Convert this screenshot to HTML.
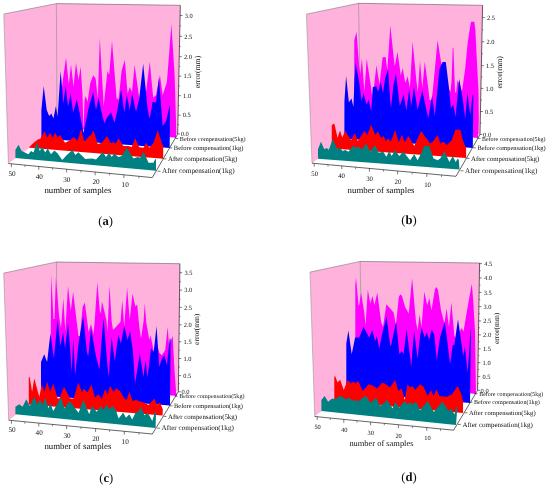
<!DOCTYPE html>
<html><head><meta charset="utf-8"><title>Figure</title>
<style>
html,body{margin:0;padding:0;background:#fff;}
svg{display:block;font-family:"Liberation Serif",serif;fill:#111;text-rendering:geometricPrecision;}
</style></head>
<body>
<svg width="550" height="486" viewBox="0 0 550 486">
<rect width="550" height="486" fill="#ffffff"/>
<polygon points="3.8,14.0 56.4,3.6 57.0,127.0 8.4,163.5" fill="#feb2dc" />
<polygon points="56.4,3.6 180.3,5.3 177.7,134.0 57.0,127.0" fill="#feb2dc" />
<line x1="3.8" y1="14.0" x2="56.4" y2="3.6" stroke="#666" stroke-width="0.5"/>
<line x1="56.4" y1="3.6" x2="57.0" y2="127.0" stroke="#777" stroke-width="0.5"/>
<line x1="3.8" y1="14.0" x2="8.4" y2="163.5" stroke="#888" stroke-width="0.5"/>
<line x1="56.4" y1="3.6" x2="180.3" y2="5.3" stroke="#444" stroke-width="0.5"/>
<polygon points="58.0,127.5 58.0,127.0 60.0,105.0 62.6,82.0 66.0,57.6 68.8,84.4 71.0,64.3 73.5,87.0 76.0,62.7 78.5,80.2 80.7,66.8 82.5,95.0 83.5,132.0 84.5,100.0 85.7,96.0 87.5,102.0 90.2,83.6 93.2,75.2 95.6,78.5 97.8,98.6 99.8,38.0 103.7,106.0 107.5,71.0 109.2,75.0 112.0,41.0 116.7,99.5 117.6,98.0 118.5,100.0 121.7,70.2 124.8,60.0 127.6,93.6 129.8,87.0 132.0,92.0 134.6,65.0 139.3,98.6 141.0,100.0 145.0,100.0 149.8,61.8 153.2,97.8 156.0,95.0 159.9,74.9 162.7,95.3 166.9,81.9 171.4,24.0 174.6,75.0 176.0,120.0 176.3,137.7" fill="#ff00ff" />
<polygon points="41.4,138.5 41.4,110.0 43.7,86.0 46.7,110.0 49.2,116.0 51.4,113.4 53.4,118.5 55.9,106.0 57.6,116.8 60.6,71.0 63.5,103.4 65.6,86.0 68.1,106.7 70.6,93.6 73.2,112.6 76.8,99.2 80.0,115.0 83.5,132.7 88.5,108.4 93.2,91.7 96.0,110.0 98.6,97.5 101.0,110.0 104.4,123.5 107.0,117.6 111.1,112.6 114.5,122.5 116.7,113.4 121.2,89.5 124.3,112.6 126.8,95.0 129.8,110.1 132.1,93.4 136.0,111.8 139.0,100.0 143.2,63.8 147.7,110.0 149.7,118.5 152.7,101.7 156.0,102.6 158.9,77.7 162.7,126.0 166.1,121.0 168.6,110.0 170.0,105.0 169.7,147.9" fill="#0000ff" />
<polygon points="29.3,147.8 29.3,147.0 33.3,142.9 38.2,139.3 40.2,139.0 44.4,131.3 47.4,137.6 50.0,132.8 52.6,137.6 55.3,132.8 57.6,137.2 60.1,134.9 65.1,142.7 70.1,140.2 73.8,136.9 77.7,141.0 81.0,128.8 84.4,141.9 88.9,136.5 91.0,135.0 93.6,130.5 97.7,143.9 102.0,142.7 107.0,136.0 110.9,143.5 113.4,141.9 115.9,143.5 118.4,138.2 123.4,146.0 128.4,146.0 131.8,146.9 135.1,138.2 139.3,147.2 143.5,147.7 146.0,142.7 149.3,147.7 153.5,142.7 157.7,130.2 161.9,143.5 163.2,146.0 163.2,158.8" fill="#ff0000" />
<polygon points="15.4,158.0 15.4,150.0 18.4,144.7 21.7,151.0 25.0,152.6 28.4,154.3 31.0,151.0 33.5,152.6 36.8,142.5 39.8,151.0 42.2,146.7 45.2,152.6 47.7,148.4 51.0,154.3 54.4,150.5 57.7,153.4 62.2,160.0 66.9,155.0 72.5,150.0 75.3,155.0 78.4,152.3 85.3,159.0 92.0,158.5 96.0,159.6 102.8,152.0 106.0,157.0 109.2,152.7 111.7,157.0 114.2,153.6 118.4,157.0 121.7,156.0 126.8,147.7 133.5,158.6 137.6,157.0 140.1,157.8 143.8,152.0 148.5,162.8 153.5,162.8 155.5,158.6 156.0,160.0 156.0,170.7" fill="#008080" />
<line x1="180.3" y1="5.3" x2="177.7" y2="134.0" stroke="#111" stroke-width="0.65"/>
<line x1="180.1" y1="15.5" x2="182.5" y2="15.5" stroke="#222" stroke-width="0.6"/>
<text x="184.7" y="17.7" font-size="6.4" text-anchor="start" >3.0</text>
<line x1="179.7" y1="36.3" x2="182.1" y2="36.3" stroke="#222" stroke-width="0.6"/>
<text x="184.3" y="38.5" font-size="6.4" text-anchor="start" >2.5</text>
<line x1="179.3" y1="56.6" x2="181.7" y2="56.6" stroke="#222" stroke-width="0.6"/>
<text x="183.9" y="58.8" font-size="6.4" text-anchor="start" >2.0</text>
<line x1="178.9" y1="76.2" x2="181.3" y2="76.2" stroke="#222" stroke-width="0.6"/>
<text x="183.5" y="78.4" font-size="6.4" text-anchor="start" >1.5</text>
<line x1="178.5" y1="95.7" x2="180.9" y2="95.7" stroke="#222" stroke-width="0.6"/>
<text x="183.1" y="97.9" font-size="6.4" text-anchor="start" >1.0</text>
<line x1="178.1" y1="115.2" x2="180.5" y2="115.2" stroke="#222" stroke-width="0.6"/>
<text x="182.7" y="117.4" font-size="6.4" text-anchor="start" >0.5</text>
<line x1="177.7" y1="133.9" x2="180.1" y2="133.9" stroke="#222" stroke-width="0.6"/>
<text x="180.7" y="136.1" font-size="6.5" text-anchor="start" >0.0</text>
<line x1="179.9" y1="25.9" x2="181.2" y2="25.9" stroke="#222" stroke-width="0.5"/>
<line x1="179.5" y1="46.4" x2="180.8" y2="46.4" stroke="#222" stroke-width="0.5"/>
<line x1="179.1" y1="66.4" x2="180.4" y2="66.4" stroke="#222" stroke-width="0.5"/>
<line x1="178.7" y1="86.0" x2="180.0" y2="86.0" stroke="#222" stroke-width="0.5"/>
<line x1="178.3" y1="105.5" x2="179.6" y2="105.5" stroke="#222" stroke-width="0.5"/>
<line x1="177.9" y1="124.6" x2="179.2" y2="124.6" stroke="#222" stroke-width="0.5"/>
<text transform="translate(199.6,72) rotate(-90)" font-size="7.8" text-anchor="middle">error(mm)</text>
<line x1="8.4" y1="163.5" x2="152.3" y2="177.6" stroke="#222" stroke-width="0.7"/>
<line x1="152.3" y1="177.6" x2="177.7" y2="134.0" stroke="#222" stroke-width="0.7"/>
<line x1="11.4" y1="163.8" x2="11.4" y2="167.1" stroke="#222" stroke-width="0.6"/>
<text x="12.0" y="176.0" font-size="7.2" text-anchor="middle" >50</text>
<line x1="38.8" y1="166.5" x2="38.8" y2="169.8" stroke="#222" stroke-width="0.6"/>
<text x="39.3" y="178.6" font-size="7.2" text-anchor="middle" >40</text>
<line x1="66.6" y1="169.2" x2="66.6" y2="172.5" stroke="#222" stroke-width="0.6"/>
<text x="66.8" y="181.5" font-size="7.2" text-anchor="middle" >30</text>
<line x1="95.1" y1="172.0" x2="95.1" y2="175.3" stroke="#222" stroke-width="0.6"/>
<text x="96.0" y="184.3" font-size="7.2" text-anchor="middle" >20</text>
<line x1="123.9" y1="174.8" x2="123.9" y2="178.1" stroke="#222" stroke-width="0.6"/>
<text x="125.2" y="186.8" font-size="7.2" text-anchor="middle" >10</text>
<line x1="24.9" y1="165.1" x2="24.9" y2="167.1" stroke="#222" stroke-width="0.5"/>
<line x1="52.5" y1="167.8" x2="52.5" y2="169.8" stroke="#222" stroke-width="0.5"/>
<line x1="80.9" y1="170.6" x2="80.9" y2="172.6" stroke="#222" stroke-width="0.5"/>
<line x1="109.6" y1="173.4" x2="109.6" y2="175.4" stroke="#222" stroke-width="0.5"/>
<line x1="138.9" y1="176.3" x2="138.9" y2="178.3" stroke="#222" stroke-width="0.5"/>
<text x="44.4" y="192.6" font-size="8.8" text-anchor="start" >number of samples</text>
<line x1="175.3" y1="138.5" x2="178.3" y2="138.5" stroke="#222" stroke-width="0.6"/>
<text x="179.8" y="140.7" font-size="6.17" text-anchor="start" >Before compensation(5kg)</text>
<line x1="169.3" y1="147.9" x2="172.3" y2="147.9" stroke="#222" stroke-width="0.6"/>
<text x="173.8" y="150.1" font-size="6.53" text-anchor="start" >Before compensation(1kg)</text>
<line x1="163.5" y1="158.8" x2="166.5" y2="158.8" stroke="#222" stroke-width="0.6"/>
<text x="168.0" y="161.0" font-size="6.88" text-anchor="start" >After compensation(5kg)</text>
<line x1="157.5" y1="171.2" x2="160.5" y2="171.2" stroke="#222" stroke-width="0.6"/>
<text x="162.0" y="173.4" font-size="7.21" text-anchor="start" >After compensation(1kg)</text>
<text x="105.6" y="224.6" font-size="12.6" text-anchor="middle" fill="#111">(<tspan font-weight="bold">a</tspan>)</text>
<polygon points="306.4,14.2 358.5,3.3 360.8,126.0 312.0,163.2" fill="#feb2dc" />
<polygon points="358.5,3.3 482.6,5.3 480.0,134.6 360.8,126.0" fill="#feb2dc" />
<line x1="306.4" y1="14.2" x2="358.5" y2="3.3" stroke="#666" stroke-width="0.5"/>
<line x1="358.5" y1="3.3" x2="360.8" y2="126.0" stroke="#777" stroke-width="0.5"/>
<line x1="306.4" y1="14.2" x2="312.0" y2="163.2" stroke="#888" stroke-width="0.5"/>
<line x1="358.5" y1="3.3" x2="482.6" y2="5.3" stroke="#444" stroke-width="0.5"/>
<polygon points="354.0,128.0 354.3,40.0 356.5,31.8 359.1,65.3 360.4,74.2 361.9,58.0 364.4,92.0 366.7,58.8 371.2,88.2 372.5,100.0 376.4,65.2 379.5,84.4 382.6,57.2 385.6,57.0 387.3,70.4 390.3,25.5 394.7,66.5 397.5,51.7 400.8,75.5 402.7,68.0 405.3,83.0 407.6,76.2 409.9,88.2 412.6,41.5 416.5,81.8 417.8,92.0 420.0,60.8 422.3,88.2 424.8,61.8 428.5,90.0 429.5,100.0 431.5,100.0 432.7,91.6 437.6,40.2 441.0,61.8 444.0,80.0 450.5,92.0 451.6,80.0 452.7,47.8 453.4,47.8 455.0,91.6 456.0,93.0 457.5,80.3 460.0,85.0 462.0,91.6 465.2,68.2 467.7,42.7 469.6,30.0 471.0,21.7 474.3,21.7 475.4,30.0 476.6,55.5 478.5,91.6 478.8,120.0 478.2,138.0" fill="#ff00ff" />
<polygon points="344.4,138.5 344.4,101.8 346.1,76.0 348.9,102.2 351.5,98.4 353.4,107.0 354.5,80.0 355.6,62.7 359.1,81.8 361.6,100.9 363.5,93.3 366.7,104.7 368.6,99.6 371.2,111.6 372.8,86.9 376.3,86.3 378.2,92.0 380.7,81.8 383.0,93.3 385.2,78.0 388.1,69.3 390.3,100.9 390.9,108.5 393.5,85.0 396.0,73.4 399.2,100.9 399.8,106.0 403.6,94.5 406.4,110.5 409.2,89.5 411.2,106.0 414.0,86.9 417.6,109.8 422.3,90.4 428.2,118.0 432.1,96.0 434.8,116.0 439.5,69.1 442.6,62.1 445.8,62.1 449.0,88.2 450.9,108.0 453.3,104.2 455.5,117.0 459.3,78.9 463.0,100.9 465.2,118.5 467.4,92.6 470.2,115.0 472.7,94.3 473.3,96.0 472.8,148.0" fill="#0000ff" />
<polygon points="331.8,148.4 331.8,125.0 334.3,123.4 337.6,138.0 340.0,130.5 342.2,137.6 345.3,131.0 351.0,140.0 355.0,133.0 357.7,141.0 364.4,131.0 367.5,135.0 371.0,124.6 375.3,135.0 378.0,131.6 381.0,138.0 383.5,136.0 385.9,141.0 388.4,138.4 390.9,141.8 395.1,130.0 398.7,142.6 401.9,134.8 404.8,142.6 408.3,136.0 414.3,146.0 421.0,131.0 430.2,143.5 432.7,141.8 437.7,135.1 440.2,143.5 443.6,141.8 446.9,145.0 451.9,140.0 455.3,129.7 460.3,129.7 462.8,140.0 466.1,148.5 466.2,158.0" fill="#ff0000" />
<polygon points="318.0,158.8 318.0,149.3 320.9,141.8 324.3,149.3 326.8,148.1 328.8,150.1 332.6,139.3 336.0,146.0 337.6,149.3 340.1,148.1 342.7,151.0 345.2,150.1 348.5,151.8 352.7,146.0 356.0,147.6 358.5,146.5 361.9,149.8 366.1,143.5 370.3,151.8 374.9,145.1 378.6,152.7 383.3,151.8 386.4,156.8 389.2,151.0 391.7,156.0 395.1,150.1 399.2,156.0 403.4,151.8 410.1,160.2 414.3,154.3 417.6,160.2 421.0,153.5 424.3,146.0 429.3,146.0 433.5,158.5 437.7,160.2 440.2,158.5 444.4,151.0 449.4,161.9 452.8,156.0 455.6,161.9 457.8,158.5 458.8,160.0 459.5,169.5" fill="#008080" />
<line x1="482.6" y1="5.3" x2="480.0" y2="134.6" stroke="#111" stroke-width="0.65"/>
<line x1="482.4" y1="17.6" x2="484.8" y2="17.6" stroke="#222" stroke-width="0.6"/>
<text x="487.0" y="19.8" font-size="6.4" text-anchor="start" >2.5</text>
<line x1="481.9" y1="41.8" x2="484.3" y2="41.8" stroke="#222" stroke-width="0.6"/>
<text x="486.5" y="44.0" font-size="6.4" text-anchor="start" >2.0</text>
<line x1="481.4" y1="65.7" x2="483.8" y2="65.7" stroke="#222" stroke-width="0.6"/>
<text x="486.0" y="67.9" font-size="6.4" text-anchor="start" >1.5</text>
<line x1="480.9" y1="88.4" x2="483.3" y2="88.4" stroke="#222" stroke-width="0.6"/>
<text x="485.5" y="90.6" font-size="6.4" text-anchor="start" >1.0</text>
<line x1="480.5" y1="111.5" x2="482.9" y2="111.5" stroke="#222" stroke-width="0.6"/>
<text x="485.1" y="113.7" font-size="6.4" text-anchor="start" >0.5</text>
<line x1="480.0" y1="134.4" x2="482.4" y2="134.4" stroke="#222" stroke-width="0.6"/>
<text x="483.0" y="136.6" font-size="6.5" text-anchor="start" >0.0</text>
<line x1="482.1" y1="29.7" x2="483.4" y2="29.7" stroke="#222" stroke-width="0.5"/>
<line x1="481.6" y1="53.7" x2="482.9" y2="53.7" stroke="#222" stroke-width="0.5"/>
<line x1="481.2" y1="77.0" x2="482.5" y2="77.0" stroke="#222" stroke-width="0.5"/>
<line x1="480.7" y1="100.0" x2="482.0" y2="100.0" stroke="#222" stroke-width="0.5"/>
<line x1="480.2" y1="123.0" x2="481.5" y2="123.0" stroke="#222" stroke-width="0.5"/>
<text transform="translate(501.6,72.3) rotate(-90)" font-size="7.8" text-anchor="middle">error(mm)</text>
<line x1="312.0" y1="163.2" x2="456.0" y2="176.3" stroke="#222" stroke-width="0.7"/>
<line x1="456.0" y1="176.3" x2="480.0" y2="134.6" stroke="#222" stroke-width="0.7"/>
<line x1="314.2" y1="163.4" x2="314.2" y2="166.7" stroke="#222" stroke-width="0.6"/>
<text x="314.7" y="175.8" font-size="6.8" text-anchor="middle" >50</text>
<line x1="341.8" y1="165.9" x2="341.8" y2="169.2" stroke="#222" stroke-width="0.6"/>
<text x="341.6" y="178.0" font-size="6.8" text-anchor="middle" >40</text>
<line x1="369.4" y1="168.4" x2="369.4" y2="171.7" stroke="#222" stroke-width="0.6"/>
<text x="369.6" y="181.4" font-size="6.8" text-anchor="middle" >30</text>
<line x1="397.6" y1="171.0" x2="397.6" y2="174.3" stroke="#222" stroke-width="0.6"/>
<text x="398.0" y="184.0" font-size="6.8" text-anchor="middle" >20</text>
<line x1="426.8" y1="173.6" x2="426.8" y2="176.9" stroke="#222" stroke-width="0.6"/>
<text x="427.6" y="187.0" font-size="6.8" text-anchor="middle" >10</text>
<line x1="328.0" y1="164.7" x2="328.0" y2="166.7" stroke="#222" stroke-width="0.5"/>
<line x1="355.6" y1="167.2" x2="355.6" y2="169.2" stroke="#222" stroke-width="0.5"/>
<line x1="383.5" y1="169.7" x2="383.5" y2="171.7" stroke="#222" stroke-width="0.5"/>
<line x1="412.2" y1="172.3" x2="412.2" y2="174.3" stroke="#222" stroke-width="0.5"/>
<line x1="441.5" y1="175.0" x2="441.5" y2="177.0" stroke="#222" stroke-width="0.5"/>
<text x="347.6" y="192.6" font-size="8.8" text-anchor="start" >number of samples</text>
<line x1="477.5" y1="138.4" x2="480.5" y2="138.4" stroke="#222" stroke-width="0.6"/>
<text x="482.0" y="140.6" font-size="5.95" text-anchor="start" >Before compensation(5kg)</text>
<line x1="472.9" y1="147.8" x2="475.9" y2="147.8" stroke="#222" stroke-width="0.6"/>
<text x="477.4" y="150.0" font-size="6.38" text-anchor="start" >Before compensation(1kg)</text>
<line x1="466.5" y1="158.4" x2="469.5" y2="158.4" stroke="#222" stroke-width="0.6"/>
<text x="471.0" y="160.6" font-size="6.78" text-anchor="start" >After compensation(5kg)</text>
<line x1="460.5" y1="170.8" x2="463.5" y2="170.8" stroke="#222" stroke-width="0.6"/>
<text x="465.0" y="173.0" font-size="7.18" text-anchor="start" >After compensation(1kg)</text>
<text x="409" y="223.8" font-size="12.6" text-anchor="middle" fill="#111">(<tspan font-weight="bold">b</tspan>)</text>
<polygon points="3.7,273.1 56.4,262.0 58.0,382.7 8.7,420.2" fill="#feb2dc" />
<polygon points="56.4,262.0 179.9,263.7 178.4,391.6 58.0,382.7" fill="#feb2dc" />
<line x1="3.7" y1="273.1" x2="56.4" y2="262.0" stroke="#666" stroke-width="0.5"/>
<line x1="56.4" y1="262.0" x2="58.0" y2="382.7" stroke="#777" stroke-width="0.5"/>
<line x1="3.7" y1="273.1" x2="8.7" y2="420.2" stroke="#888" stroke-width="0.5"/>
<line x1="56.4" y1="262.0" x2="179.9" y2="263.7" stroke="#444" stroke-width="0.5"/>
<polygon points="50.5,384.0 50.8,330.0 51.2,274.6 53.5,319.0 54.5,319.0 55.9,277.2 59.1,316.0 61.0,328.0 63.3,298.2 65.3,331.0 68.0,286.1 70.8,310.9 73.1,291.8 78.5,336.0 80.0,336.0 82.6,307.0 84.8,302.6 87.3,321.6 88.5,332.0 91.0,324.0 93.5,334.0 94.7,321.6 97.3,282.3 99.8,310.9 100.8,313.5 102.0,301.4 106.4,319.8 107.5,331.7 109.5,285.5 111.7,321.6 113.0,330.0 115.9,327.0 120.5,322.0 122.3,300.1 124.2,326.7 127.1,287.4 129.7,320.0 132.5,293.7 135.4,306.5 137.2,304.5 139.3,326.7 141.0,338.4 143.5,322.0 144.8,303.3 146.2,322.0 149.3,340.1 150.5,335.0 153.8,351.8 156.0,340.0 159.3,352.7 161.9,355.2 165.2,350.1 167.7,326.7 169.0,345.0 172.7,336.0 174.4,368.5 176.0,391.0 177.0,396.0" fill="#ff00ff" />
<polygon points="41.0,395.5 41.0,362.0 44.2,354.3 47.1,361.9 50.4,333.4 53.9,358.5 57.6,319.2 60.4,346.0 63.1,332.6 65.1,348.5 68.1,322.5 71.8,372.0 73.2,338.4 75.2,375.2 78.5,343.5 83.2,315.9 86.9,351.8 88.2,356.8 91.1,328.4 96.1,356.8 99.4,369.4 102.0,335.0 103.6,318.4 107.0,360.2 108.6,377.0 111.6,337.6 114.8,361.0 118.4,335.1 120.9,343.5 124.2,325.9 127.6,340.1 130.1,330.9 133.0,352.0 135.1,383.6 139.8,353.5 143.5,376.9 145.5,360.2 147.6,376.9 151.0,348.5 153.8,351.8 156.5,325.9 159.3,366.9 161.9,358.5 164.4,355.2 166.9,365.2 169.9,337.6 170.6,340.0 170.0,405.6" fill="#0000ff" />
<polygon points="28.8,404.5 28.8,377.5 29.6,376.7 32.1,391.8 34.3,378.4 39.3,397.0 41.8,384.2 44.3,391.8 47.2,381.7 50.2,391.8 53.2,383.4 57.7,398.5 59.4,398.5 63.9,386.7 70.3,398.5 73.6,398.5 78.3,382.6 82.0,392.6 83.7,388.8 87.5,392.6 91.4,384.2 95.0,397.6 98.4,394.3 101.7,399.3 105.1,389.3 107.6,394.3 110.1,385.9 113.5,391.8 116.0,388.4 120.1,390.9 124.3,398.5 126.5,400.1 129.3,391.8 132.7,401.0 136.0,400.1 143.6,402.6 148.6,405.1 154.4,398.5 156.9,405.1 160.0,402.6 162.8,409.3 162.6,415.6" fill="#ff0000" />
<polygon points="15.4,414.3 15.4,406.8 19.2,404.3 22.6,406.8 26.3,399.3 29.8,406.0 34.3,396.8 37.1,404.3 40.1,400.1 42.7,405.1 45.2,397.6 48.5,408.5 50.2,402.6 53.2,411.0 61.1,397.6 64.4,408.5 69.4,401.0 78.6,412.7 83.4,399.7 89.2,414.3 92.0,406.0 96.7,411.8 100.9,406.0 103.4,410.2 106.4,404.3 109.3,409.3 112.6,406.0 116.0,410.2 118.5,418.5 123.2,412.7 126.0,417.7 129.3,414.3 132.2,419.4 136.0,411.8 137.7,412.7 141.0,406.8 144.4,415.2 147.8,412.7 152.3,421.0 155.3,411.0 156.0,413.0 155.6,428.0" fill="#008080" />
<line x1="179.9" y1="263.7" x2="178.4" y2="391.6" stroke="#111" stroke-width="0.65"/>
<line x1="179.8" y1="272.7" x2="182.2" y2="272.7" stroke="#222" stroke-width="0.6"/>
<text x="184.4" y="274.9" font-size="6.4" text-anchor="start" >3.5</text>
<line x1="179.6" y1="290.1" x2="182.0" y2="290.1" stroke="#222" stroke-width="0.6"/>
<text x="184.2" y="292.3" font-size="6.4" text-anchor="start" >3.0</text>
<line x1="179.4" y1="307.4" x2="181.8" y2="307.4" stroke="#222" stroke-width="0.6"/>
<text x="184.0" y="309.6" font-size="6.4" text-anchor="start" >2.5</text>
<line x1="179.2" y1="324.8" x2="181.6" y2="324.8" stroke="#222" stroke-width="0.6"/>
<text x="183.8" y="327.0" font-size="6.4" text-anchor="start" >2.0</text>
<line x1="179.0" y1="341.8" x2="181.4" y2="341.8" stroke="#222" stroke-width="0.6"/>
<text x="183.6" y="344.0" font-size="6.4" text-anchor="start" >1.5</text>
<line x1="178.8" y1="358.5" x2="181.2" y2="358.5" stroke="#222" stroke-width="0.6"/>
<text x="183.4" y="360.7" font-size="6.4" text-anchor="start" >1.0</text>
<line x1="178.6" y1="375.6" x2="181.0" y2="375.6" stroke="#222" stroke-width="0.6"/>
<text x="183.2" y="377.8" font-size="6.4" text-anchor="start" >0.5</text>
<line x1="178.4" y1="391.8" x2="180.8" y2="391.8" stroke="#222" stroke-width="0.6"/>
<text x="181.4" y="394.0" font-size="6.5" text-anchor="start" >0.0</text>
<line x1="179.7" y1="281.7" x2="181.0" y2="281.7" stroke="#222" stroke-width="0.5"/>
<line x1="179.5" y1="299.2" x2="180.8" y2="299.2" stroke="#222" stroke-width="0.5"/>
<line x1="179.3" y1="316.5" x2="180.6" y2="316.5" stroke="#222" stroke-width="0.5"/>
<line x1="179.1" y1="333.4" x2="180.4" y2="333.4" stroke="#222" stroke-width="0.5"/>
<line x1="178.9" y1="350.2" x2="180.2" y2="350.2" stroke="#222" stroke-width="0.5"/>
<line x1="178.7" y1="367.0" x2="180.0" y2="367.0" stroke="#222" stroke-width="0.5"/>
<line x1="178.5" y1="383.7" x2="179.8" y2="383.7" stroke="#222" stroke-width="0.5"/>
<text transform="translate(198.6,329.3) rotate(-90)" font-size="7.5" text-anchor="middle">error(mm)</text>
<line x1="8.7" y1="420.2" x2="152.3" y2="434.0" stroke="#222" stroke-width="0.7"/>
<line x1="152.3" y1="434.0" x2="178.4" y2="391.6" stroke="#222" stroke-width="0.7"/>
<line x1="11.4" y1="420.5" x2="11.4" y2="423.8" stroke="#222" stroke-width="0.6"/>
<text x="12.0" y="431.9" font-size="7.2" text-anchor="middle" >50</text>
<line x1="38.8" y1="423.1" x2="38.8" y2="426.4" stroke="#222" stroke-width="0.6"/>
<text x="39.2" y="435.4" font-size="7.2" text-anchor="middle" >40</text>
<line x1="66.6" y1="425.8" x2="66.6" y2="429.1" stroke="#222" stroke-width="0.6"/>
<text x="67.0" y="438.4" font-size="7.2" text-anchor="middle" >30</text>
<line x1="95.6" y1="428.6" x2="95.6" y2="431.9" stroke="#222" stroke-width="0.6"/>
<text x="95.8" y="441.4" font-size="7.2" text-anchor="middle" >20</text>
<line x1="124.3" y1="431.3" x2="124.3" y2="434.6" stroke="#222" stroke-width="0.6"/>
<text x="125.2" y="444.0" font-size="7.2" text-anchor="middle" >10</text>
<line x1="24.9" y1="421.8" x2="24.9" y2="423.8" stroke="#222" stroke-width="0.5"/>
<line x1="52.5" y1="424.4" x2="52.5" y2="426.4" stroke="#222" stroke-width="0.5"/>
<line x1="80.9" y1="427.1" x2="80.9" y2="429.1" stroke="#222" stroke-width="0.5"/>
<line x1="109.6" y1="429.9" x2="109.6" y2="431.9" stroke="#222" stroke-width="0.5"/>
<line x1="138.9" y1="432.7" x2="138.9" y2="434.7" stroke="#222" stroke-width="0.5"/>
<text x="44.4" y="449.4" font-size="8.8" text-anchor="start" >number of samples</text>
<line x1="174.7" y1="396.2" x2="177.7" y2="396.2" stroke="#222" stroke-width="0.6"/>
<text x="179.2" y="398.4" font-size="6.12" text-anchor="start" >Before compensation(5kg)</text>
<line x1="169.5" y1="405.8" x2="172.5" y2="405.8" stroke="#222" stroke-width="0.6"/>
<text x="174.0" y="408.0" font-size="6.45" text-anchor="start" >Before compensation(1kg)</text>
<line x1="163.5" y1="416.4" x2="166.5" y2="416.4" stroke="#222" stroke-width="0.6"/>
<text x="168.0" y="418.6" font-size="6.85" text-anchor="start" >After compensation(5kg)</text>
<line x1="157.1" y1="428.2" x2="160.1" y2="428.2" stroke="#222" stroke-width="0.6"/>
<text x="161.6" y="430.4" font-size="7.18" text-anchor="start" >After compensation(1kg)</text>
<text x="106.3" y="481.6" font-size="12.6" text-anchor="middle" fill="#111">(<tspan font-weight="bold">c</tspan>)</text>
<polygon points="310.0,272.1 360.2,261.4 362.0,379.0 314.7,416.5" fill="#feb2dc" />
<polygon points="360.2,261.4 479.6,263.0 477.6,390.3 362.0,379.0" fill="#feb2dc" />
<line x1="310.0" y1="272.1" x2="360.2" y2="261.4" stroke="#666" stroke-width="0.5"/>
<line x1="360.2" y1="261.4" x2="362.0" y2="379.0" stroke="#777" stroke-width="0.5"/>
<line x1="310.0" y1="272.1" x2="314.7" y2="416.5" stroke="#888" stroke-width="0.5"/>
<line x1="360.2" y1="261.4" x2="479.6" y2="263.0" stroke="#444" stroke-width="0.5"/>
<polygon points="355.3,381.0 355.3,285.0 356.0,277.6 358.5,305.2 359.0,306.0 361.1,292.6 364.4,313.5 365.5,325.9 367.8,289.8 370.3,303.5 372.4,296.0 374.4,305.2 377.3,292.6 381.1,321.9 383.0,327.0 386.4,304.3 391.7,310.2 393.7,312.7 395.9,325.3 398.8,297.0 400.4,294.3 402.0,296.0 405.1,306.9 408.8,313.5 412.1,278.1 416.0,322.0 417.6,330.3 419.6,314.4 421.5,327.0 424.3,291.8 427.2,305.2 429.3,298.2 431.5,310.2 435.0,289.0 436.5,287.1 438.0,290.0 441.0,310.2 444.4,323.6 446.6,308.5 448.9,327.0 451.4,302.2 454.4,336.0 455.5,338.0 458.0,335.0 461.6,327.9 463.5,331.6 467.4,308.2 471.8,283.7 473.3,301.8 475.0,331.6 475.6,370.0 476.0,394.0" fill="#ff00ff" />
<polygon points="346.3,392.0 346.3,343.5 348.4,330.4 351.7,354.3 355.1,337.6 359.3,337.6 363.5,326.7 366.0,331.7 369.3,337.6 372.2,330.1 375.2,340.9 376.8,335.9 379.3,348.5 381.9,335.1 386.5,316.7 390.2,345.1 391.0,346.0 396.1,321.7 399.4,354.3 401.9,351.0 403.6,354.3 406.6,329.2 410.3,358.5 411.1,366.9 414.1,330.9 417.6,358.5 420.0,337.0 421.7,327.6 424.7,337.6 426.7,332.6 429.2,340.1 431.7,329.2 434.3,335.1 436.8,360.2 440.1,337.0 444.8,321.7 447.6,343.5 450.1,364.4 452.7,345.1 454.3,345.1 458.0,319.2 461.0,340.1 463.2,356.0 464.9,346.8 467.7,372.7 470.6,329.2 471.0,331.0 470.0,403.0" fill="#0000ff" />
<polygon points="334.3,401.3 334.3,376.7 335.1,375.9 337.6,382.6 340.1,379.7 343.8,390.1 347.7,380.1 351.0,383.4 353.2,381.4 355.5,383.4 358.2,380.9 362.7,391.0 368.6,384.3 373.6,385.9 377.0,388.4 382.3,382.6 387.0,385.1 390.0,387.6 395.1,380.1 398.4,391.0 401.7,388.4 404.8,400.1 407.6,384.3 410.1,387.6 412.6,385.9 415.1,390.1 420.1,384.3 423.5,386.8 427.7,396.0 431.0,390.1 433.5,396.0 436.5,389.3 439.4,396.0 446.9,396.8 451.9,394.3 457.8,385.9 461.1,393.5 463.1,401.8 463.0,413.0" fill="#ff0000" />
<polygon points="321.4,411.0 321.4,400.1 324.6,396.0 328.1,401.8 331.8,398.8 336.0,398.8 340.1,396.0 343.5,397.6 346.0,399.8 348.5,397.6 353.5,401.0 355.5,399.3 357.7,401.8 361.9,398.5 366.1,396.0 370.3,402.7 376.1,398.1 380.3,406.0 387.5,400.1 392.5,408.5 395.4,401.8 399.2,407.7 404.3,401.0 407.6,404.3 410.1,402.6 412.6,404.3 416.0,401.8 420.1,410.2 427.7,401.0 433.9,411.9 437.7,406.8 442.7,401.8 448.6,411.0 451.1,408.5 454.4,414.4 456.6,406.0 457.3,408.0 456.0,425.0" fill="#008080" />
<line x1="479.6" y1="263.0" x2="477.6" y2="390.3" stroke="#111" stroke-width="0.65"/>
<line x1="479.6" y1="263.6" x2="482.0" y2="263.6" stroke="#222" stroke-width="0.6"/>
<text x="484.2" y="265.8" font-size="6.4" text-anchor="start" >4.5</text>
<line x1="479.4" y1="278.0" x2="481.8" y2="278.0" stroke="#222" stroke-width="0.6"/>
<text x="484.0" y="280.2" font-size="6.4" text-anchor="start" >4.0</text>
<line x1="479.1" y1="292.4" x2="481.5" y2="292.4" stroke="#222" stroke-width="0.6"/>
<text x="483.7" y="294.6" font-size="6.4" text-anchor="start" >3.5</text>
<line x1="478.9" y1="306.6" x2="481.3" y2="306.6" stroke="#222" stroke-width="0.6"/>
<text x="483.5" y="308.8" font-size="6.4" text-anchor="start" >3.0</text>
<line x1="478.7" y1="320.9" x2="481.1" y2="320.9" stroke="#222" stroke-width="0.6"/>
<text x="483.3" y="323.1" font-size="6.4" text-anchor="start" >2.5</text>
<line x1="478.5" y1="334.8" x2="480.9" y2="334.8" stroke="#222" stroke-width="0.6"/>
<text x="483.1" y="337.0" font-size="6.4" text-anchor="start" >2.0</text>
<line x1="478.3" y1="348.8" x2="480.7" y2="348.8" stroke="#222" stroke-width="0.6"/>
<text x="482.9" y="351.0" font-size="6.4" text-anchor="start" >1.5</text>
<line x1="478.0" y1="362.7" x2="480.4" y2="362.7" stroke="#222" stroke-width="0.6"/>
<text x="482.6" y="364.9" font-size="6.4" text-anchor="start" >1.0</text>
<line x1="477.8" y1="376.6" x2="480.2" y2="376.6" stroke="#222" stroke-width="0.6"/>
<text x="482.4" y="378.8" font-size="6.4" text-anchor="start" >0.5</text>
<line x1="477.6" y1="390.3" x2="480.0" y2="390.3" stroke="#222" stroke-width="0.6"/>
<text x="480.6" y="392.5" font-size="6.5" text-anchor="start" >0.0</text>
<line x1="479.5" y1="270.8" x2="480.8" y2="270.8" stroke="#222" stroke-width="0.5"/>
<line x1="479.3" y1="285.2" x2="480.6" y2="285.2" stroke="#222" stroke-width="0.5"/>
<line x1="479.0" y1="299.5" x2="480.3" y2="299.5" stroke="#222" stroke-width="0.5"/>
<line x1="478.8" y1="313.7" x2="480.1" y2="313.7" stroke="#222" stroke-width="0.5"/>
<line x1="478.6" y1="327.8" x2="479.9" y2="327.8" stroke="#222" stroke-width="0.5"/>
<line x1="478.4" y1="341.8" x2="479.7" y2="341.8" stroke="#222" stroke-width="0.5"/>
<line x1="478.1" y1="355.7" x2="479.4" y2="355.7" stroke="#222" stroke-width="0.5"/>
<line x1="477.9" y1="369.6" x2="479.2" y2="369.6" stroke="#222" stroke-width="0.5"/>
<line x1="477.7" y1="383.4" x2="479.0" y2="383.4" stroke="#222" stroke-width="0.5"/>
<text transform="translate(498.5,328.4) rotate(-90)" font-size="7.5" text-anchor="middle">error(mm)</text>
<line x1="314.7" y1="416.5" x2="453.6" y2="430.2" stroke="#222" stroke-width="0.7"/>
<line x1="453.6" y1="430.2" x2="477.6" y2="390.3" stroke="#222" stroke-width="0.7"/>
<line x1="317.2" y1="416.7" x2="317.2" y2="420.0" stroke="#222" stroke-width="0.6"/>
<text x="317.6" y="428.9" font-size="6.4" text-anchor="middle" >50</text>
<line x1="343.8" y1="419.4" x2="343.8" y2="422.7" stroke="#222" stroke-width="0.6"/>
<text x="344.3" y="431.8" font-size="6.4" text-anchor="middle" >40</text>
<line x1="370.6" y1="422.0" x2="370.6" y2="425.3" stroke="#222" stroke-width="0.6"/>
<text x="370.8" y="434.5" font-size="6.4" text-anchor="middle" >30</text>
<line x1="398.4" y1="424.8" x2="398.4" y2="428.1" stroke="#222" stroke-width="0.6"/>
<text x="398.6" y="437.5" font-size="6.4" text-anchor="middle" >20</text>
<line x1="426.8" y1="427.6" x2="426.8" y2="430.9" stroke="#222" stroke-width="0.6"/>
<text x="427.5" y="440.0" font-size="6.4" text-anchor="middle" >10</text>
<line x1="330.3" y1="418.0" x2="330.3" y2="420.0" stroke="#222" stroke-width="0.5"/>
<line x1="357.0" y1="420.7" x2="357.0" y2="422.7" stroke="#222" stroke-width="0.5"/>
<line x1="384.3" y1="423.4" x2="384.3" y2="425.4" stroke="#222" stroke-width="0.5"/>
<line x1="412.4" y1="426.1" x2="412.4" y2="428.1" stroke="#222" stroke-width="0.5"/>
<line x1="440.5" y1="428.9" x2="440.5" y2="430.9" stroke="#222" stroke-width="0.5"/>
<text x="349.4" y="446.0" font-size="8.43" text-anchor="start" >number of samples</text>
<line x1="474.7" y1="393.8" x2="477.7" y2="393.8" stroke="#222" stroke-width="0.6"/>
<text x="479.2" y="396.0" font-size="5.99" text-anchor="start" >Before compensation(5kg)</text>
<line x1="469.5" y1="402.2" x2="472.5" y2="402.2" stroke="#222" stroke-width="0.6"/>
<text x="474.0" y="404.4" font-size="6.17" text-anchor="start" >Before compensation(1kg)</text>
<line x1="464.5" y1="412.8" x2="467.5" y2="412.8" stroke="#222" stroke-width="0.6"/>
<text x="469.0" y="415.0" font-size="6.61" text-anchor="start" >After compensation(5kg)</text>
<line x1="457.9" y1="424.4" x2="460.9" y2="424.4" stroke="#222" stroke-width="0.6"/>
<text x="462.4" y="426.6" font-size="7.0" text-anchor="start" >After compensation(1kg)</text>
<text x="409" y="481.1" font-size="12.6" text-anchor="middle" fill="#111">(<tspan font-weight="bold">d</tspan>)</text>
</svg>
</body></html>
